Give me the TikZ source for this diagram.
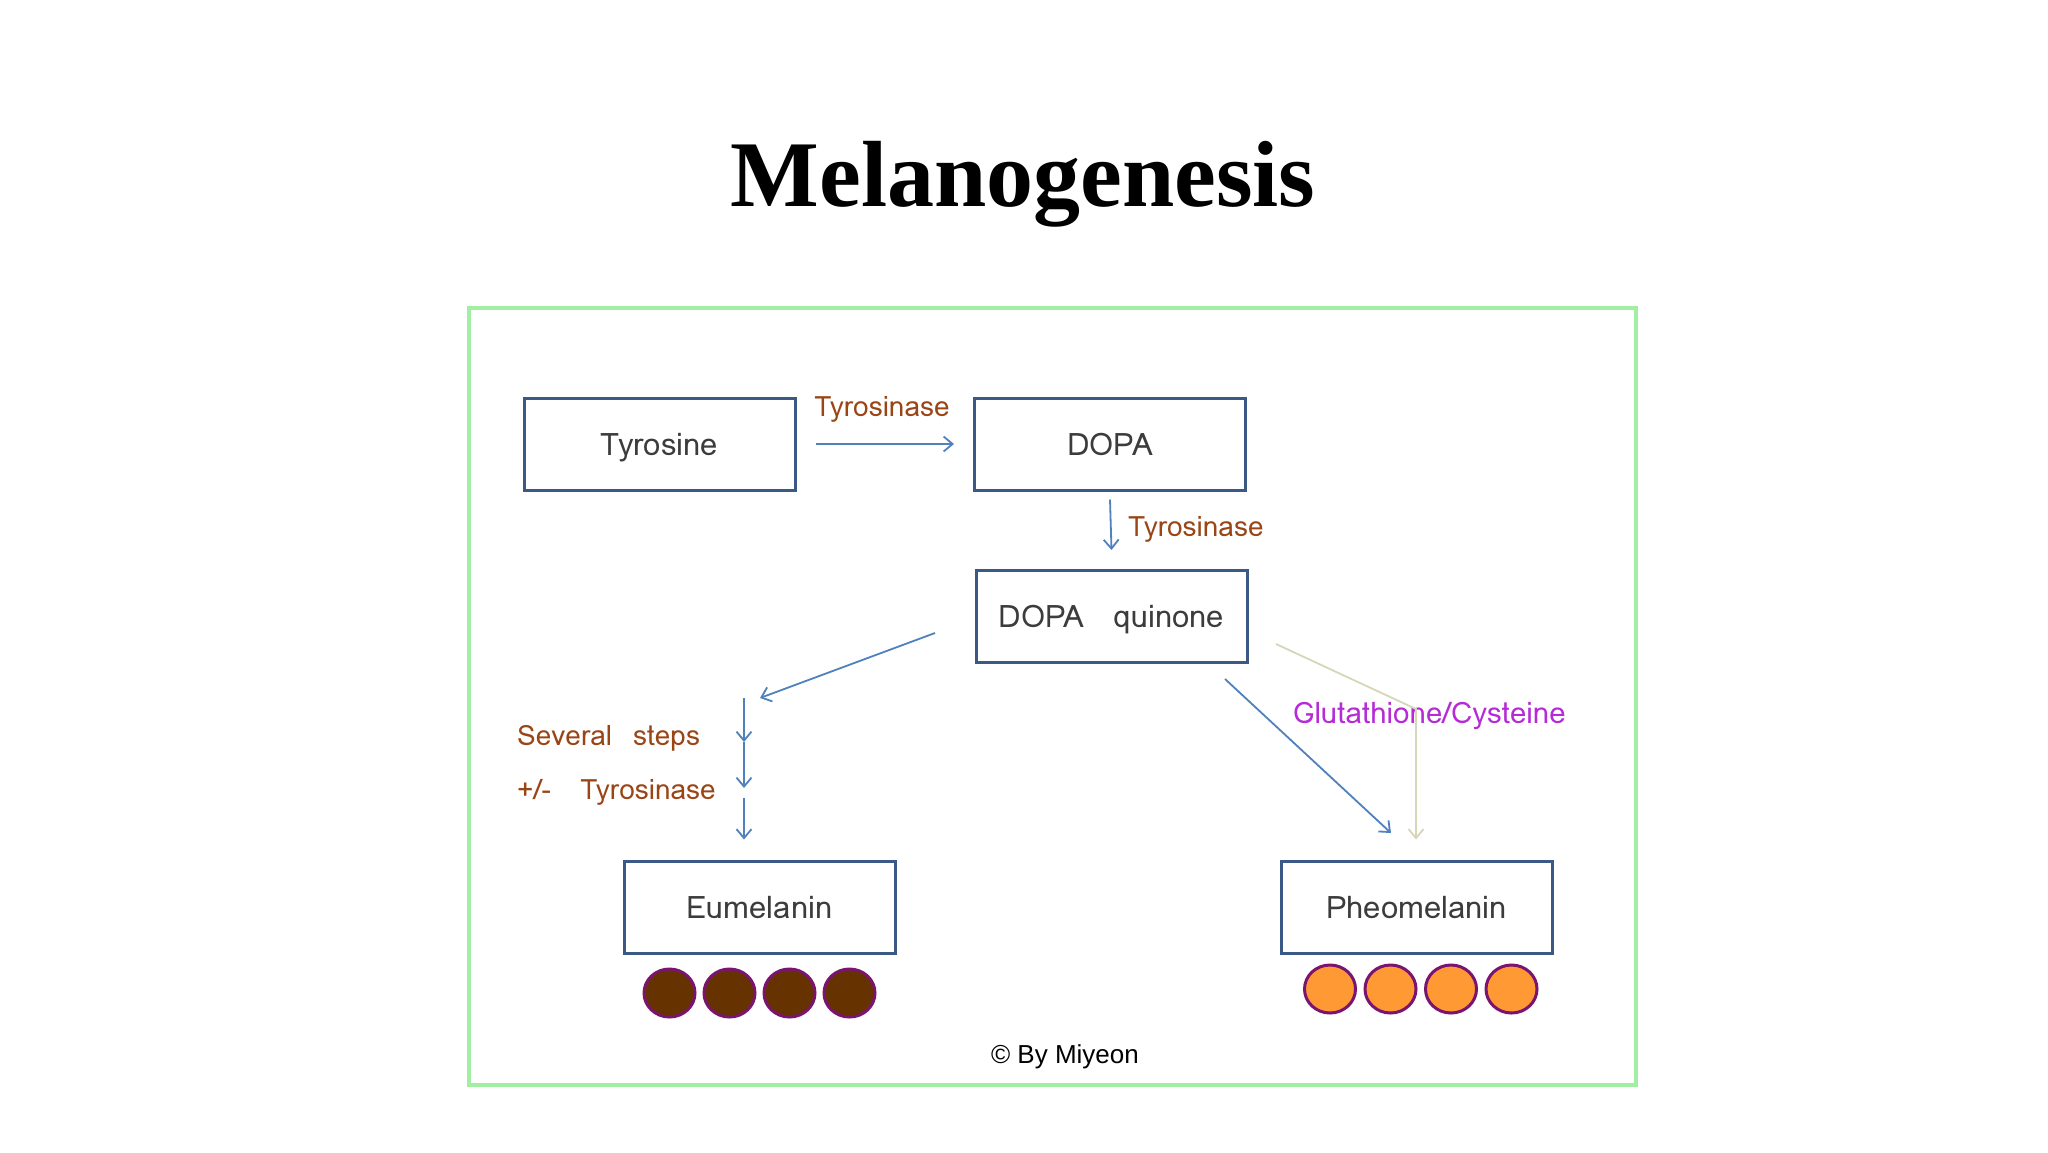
\documentclass[tikz,border=0pt]{standalone}
\usepackage{fontspec}
\setmainfont{Liberation Serif}
\newfontfamily\lomafont{Loma}
\newfontfamily\capfont{Liberation Sans}
\usetikzlibrary{arrows.meta,calc,shapes.geometric}
\definecolor{boxblue}{HTML}{3A5A85}
\definecolor{arrblue}{HTML}{4F81BD}
\definecolor{labbrown}{HTML}{9A4516}
\definecolor{labmag}{HTML}{B52BD6}
\definecolor{beigeln}{HTML}{D6D6B8}
\definecolor{framegreen}{HTML}{A2EEA2}
\definecolor{boxtext}{HTML}{3C3C3C}
\definecolor{eufill}{HTML}{663300}
\definecolor{pheofill}{HTML}{FF9933}
\definecolor{dotline}{HTML}{7A1470}
\begin{document}
\begin{tikzpicture}[x=1pt,y=-1pt,
  box/.style={draw=boxblue,line width=3pt,minimum width=271pt,minimum height=92pt,
    inner sep=0pt,font=\lomafont\fontsize{31}{36}\selectfont,text=boxtext,
    text height=22pt,text depth=0pt},
  arr/.style={draw=arrblue,line width=1.8pt,-{Straight Barb[length=9pt,width=15pt,line width=1.8pt]}},
  enz/.style={font=\lomafont\fontsize{28}{32}\selectfont,text=labbrown,inner sep=0pt},
  dot/.style={draw=dotline,line width=3pt,ellipse,minimum width=51pt,minimum height=48pt,inner sep=0pt}
]
\useasboundingbox[fill=white] (0,0) rectangle (2048,1152);
% title
\node[font=\bfseries\fontsize{94}{100}\selectfont,anchor=base,inner sep=0pt] (title) at (1023,206) {Melanogenesis};
% frame
\node[draw=framegreen,line width=4pt,minimum width=1167pt,minimum height=777pt,inner sep=0pt] (frame) at (1052.5,696.5) {};
% boxes
\node[box] (tyr) at (659.5,444) {Tyrosine};
\node[box] (dopa) at (1110,444) {DOPA};
\node[box] (dq) at (1111.5,616.5) {DOPA\hspace{0.95em}quinone};
\node[box] (eu) at (759.5,907) {Eumelanin};
\node[box] (pheo) at (1416.5,907) {Pheomelanin};
% labels
\node[enz] (t1) at (882,409) {Tyrosinase};
\node[enz,anchor=west] (t2) at (1128,529) {Tyrosinase};
\node[enz,anchor=west] (sev) at (517,738) {Several\hspace{0.75em}steps};
\node[enz,anchor=west] (pm) at (517,792) {+/-\hspace{1.05em}Tyrosinase};
\node[font=\lomafont\fontsize{29.5}{34}\selectfont,text=labmag,inner sep=0pt,anchor=west] (glu) at (1293,716) {Glutathione/Cysteine};
% arrows
\draw[arr] ($(tyr.east)+(19,0)$) -- ($(dopa.west)+(-19,0)$);
\draw[arr] ($(dopa.south)+(0,8)$) -- ($(dq.north)+(0,-19)$);
\coordinate (d1) at (935,633);
\coordinate (d2) at (760,698);
\draw[arr] (d1) -- (d2);
\coordinate (e1) at (744,698);
\coordinate (e2) at (744,742);
\coordinate (e3) at (744,788);
\coordinate (e4) at (744,798);
\coordinate (e5) at ($(eu.north)+(-15.5,-20)$);
\draw[arr] (e1) -- (e2);
\draw[arr] (e2) -- (e3);
\draw[arr] (e4) -- (e5);
\coordinate (p1) at (1225,679);
\coordinate (p2) at (1391,833);
\draw[arr] (p1) -- (p2);
\coordinate (b1) at (1276,644);
\coordinate (b2) at (1416,709);
\coordinate (b3) at ($(pheo.north)+(-0.5,-20)$);
\draw[draw=beigeln,line width=1.8pt,-{Straight Barb[length=9pt,width=15pt,line width=1.8pt]}] (b1) -- (b2) -- (b3);
% dots
\foreach \i/\x in {1/669.5,2/729.5,3/789.5,4/849.5}
  \node[dot,fill=eufill] (eud\i) at (\x,993) {};
\foreach \i/\x in {1/1330,2/1390.5,3/1451,4/1511.5}
  \node[dot,fill=pheofill] (phd\i) at (\x,989) {};
% copyright
\node[font=\capfont\fontsize{26}{30}\selectfont,inner sep=0pt] (copy) at (1065,1057) {\textcopyright{} By Miyeon};
\end{tikzpicture}
\end{document}
